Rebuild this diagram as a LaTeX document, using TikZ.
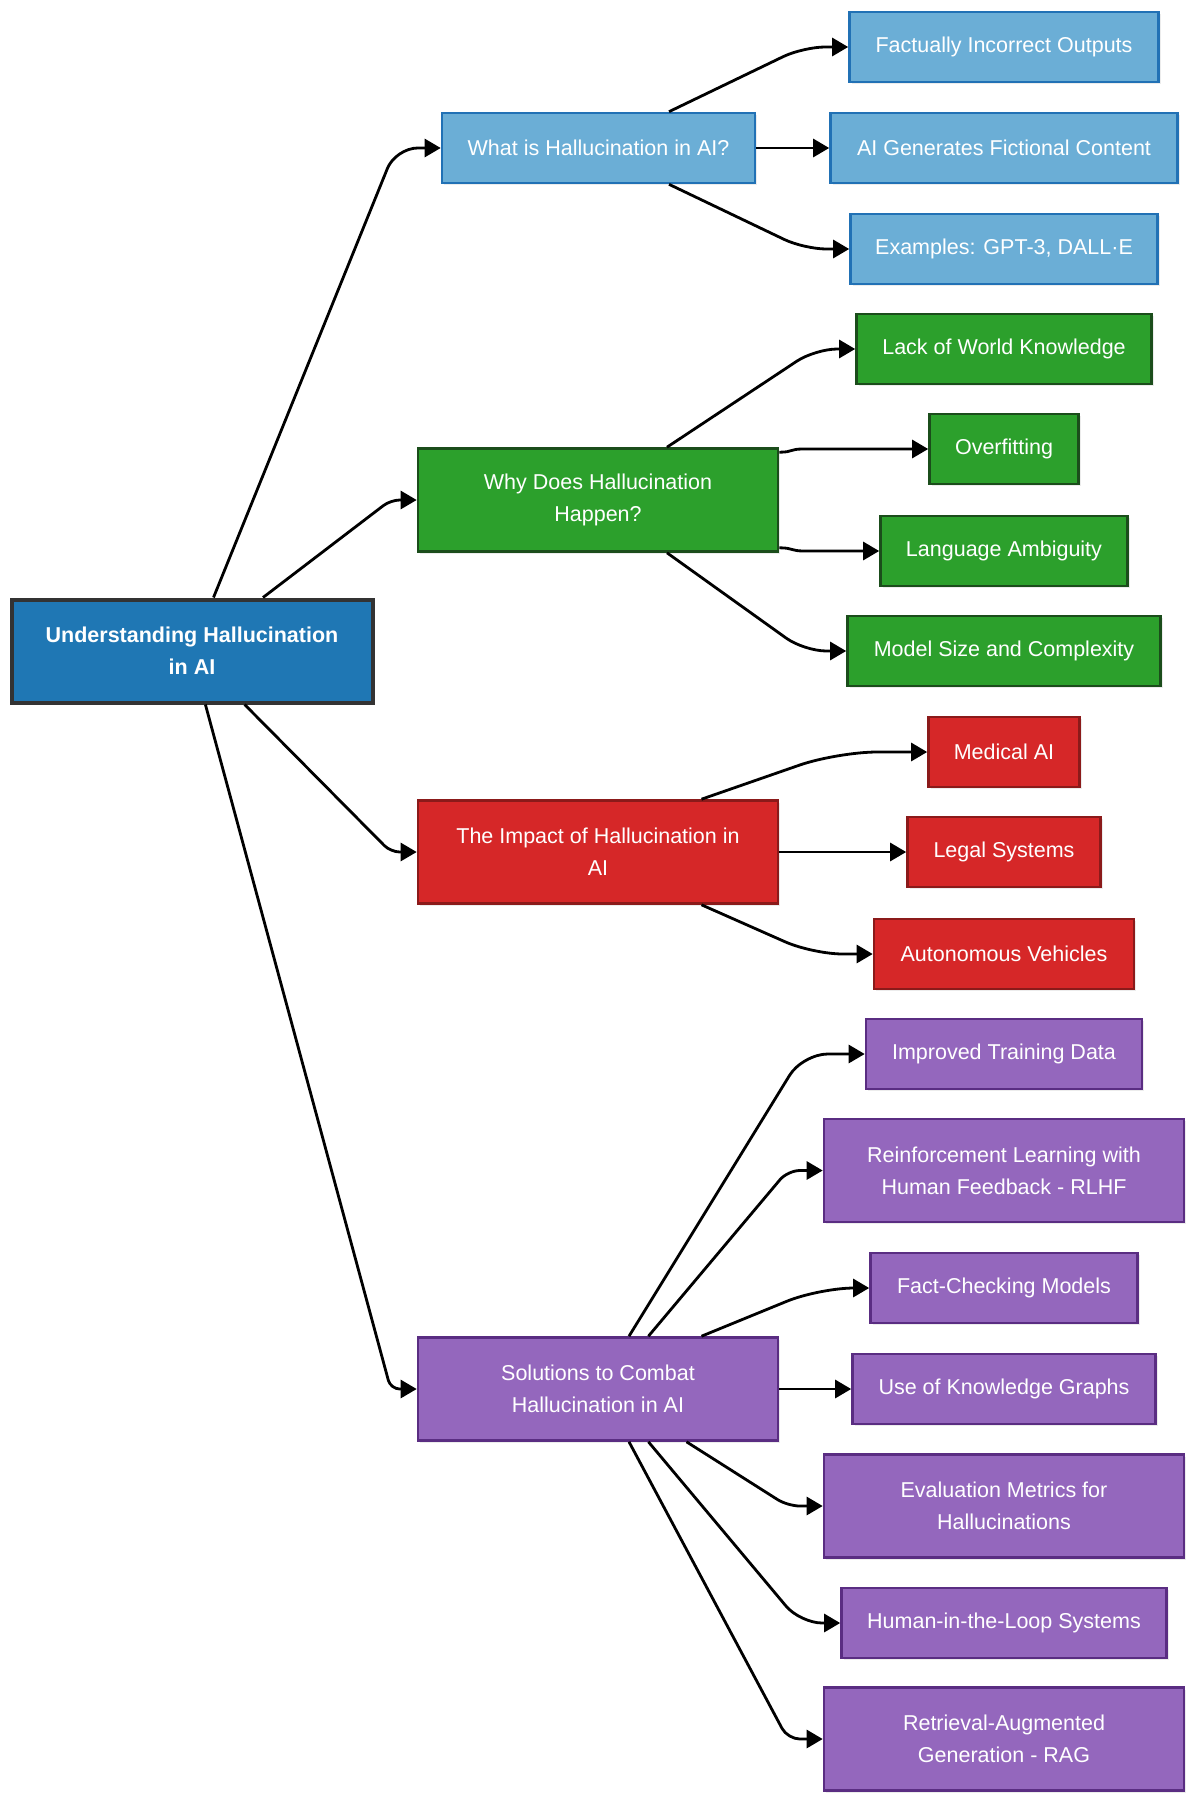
\documentclass[tikz,border=0pt]{standalone}
\usepackage{fontspec}
\setmainfont{Liberation Sans}
\usetikzlibrary{arrows.meta,calc,shadows}

\definecolor{rootfill}{HTML}{1F77B4}
\definecolor{rootline}{HTML}{333333}
\definecolor{bluefill}{HTML}{6BAED6}
\definecolor{blueline}{HTML}{2171B5}
\definecolor{greenfill}{HTML}{2CA02C}
\definecolor{greenline}{HTML}{1B4D1B}
\definecolor{redfill}{HTML}{D62728}
\definecolor{redline}{HTML}{8B1A1A}
\definecolor{purplefill}{HTML}{9467BD}
\definecolor{purpleline}{HTML}{5A2D82}

\tikzset{
  box/.style={draw, line width=2.6pt, text=white, inner sep=0pt,
    minimum height=70pt, align=center,
    font=\fontsize{21.5pt}{32pt}\selectfont,
    drop shadow={opacity=0.15, shadow xshift=2pt, shadow yshift=-2pt}},
  tall/.style={minimum height=103pt},
  rootbox/.style={box, tall, fill=rootfill, draw=rootline, line width=4pt,
    font=\bfseries\fontsize{21.5pt}{32pt}\selectfont},
  bluebox/.style={box, fill=bluefill, draw=blueline},
  greenbox/.style={box, fill=greenfill, draw=greenline},
  redbox/.style={box, fill=redfill, draw=redline},
  purplebox/.style={box, fill=purplefill, draw=purpleline},
  link/.style={line width=2.8pt, rounded corners=22pt,
    -{Triangle[length=16pt,width=18pt]}},
}

\begin{document}
\begin{tikzpicture}[x=1pt,y=-1pt]
  \useasboundingbox (0,0) rectangle (1200,1809);

  % --- racine et branches ---
  \node[rootbox, minimum width=361pt] (root) at (192,651) {Understanding Hallucination\\in AI};
  \node[bluebox, minimum width=313pt] (what) at (598.5,148) {What is Hallucination in AI?};
  \node[greenbox, tall, minimum width=360pt] (why) at (598,500) {Why Does Hallucination\\Happen?};
  \node[redbox, tall, minimum width=360pt] (impact) at (598,852) {The Impact of Hallucination in\\AI};
  \node[purplebox, tall, minimum width=360pt] (solve) at (598,1389) {Solutions to Combat\\Hallucination in AI};

  % --- feuilles ---
  \node[bluebox, minimum width=309pt] (fact) at (1004,47) {Factually Incorrect Outputs};
  \node[bluebox, minimum width=347pt] (fiction) at (1004,148) {AI Generates Fictional Content};
  \node[bluebox, minimum width=307pt] (examples) at (1004,249) {Examples: GPT-3, DALL·E};

  \node[greenbox, minimum width=295pt] (lack) at (1004,349) {Lack of World Knowledge};
  \node[greenbox, minimum width=149pt] (overfit) at (1004,449) {Overfitting};
  \node[greenbox, minimum width=247pt] (ambig) at (1004,551) {Language Ambiguity};
  \node[greenbox, minimum width=313pt] (modelsize) at (1004,651) {Model Size and Complexity};

  \node[redbox, minimum width=151pt] (medical) at (1004,752) {Medical AI};
  \node[redbox, minimum width=193pt] (legal) at (1004,852) {Legal Systems};
  \node[redbox, minimum width=260pt] (vehicles) at (1004,954) {Autonomous Vehicles};

  \node[purplebox, minimum width=276pt] (trainingdata) at (1004,1054) {Improved Training Data};
  \node[purplebox, tall, minimum width=360pt] (rlhf) at (1004,1170.5) {Reinforcement Learning with\\Human Feedback - RLHF};
  \node[purplebox, minimum width=267pt] (factcheck) at (1004,1288) {Fact-Checking Models};
  \node[purplebox, minimum width=303pt] (kgraphs) at (1004,1389) {Use of Knowledge Graphs};
  \node[purplebox, tall, minimum width=360pt] (metrics) at (1004,1506) {Evaluation Metrics for\\Hallucinations};
  \node[purplebox, minimum width=325pt] (hitl) at (1004,1623) {Human-in-the-Loop Systems};
  \node[purplebox, tall, minimum width=360pt] (rag) at (1004,1739) {Retrieval-Augmented\\Generation - RAG};

  % --- liens depuis la racine ---
  \draw[link] ($(root.north)+(21.5,0)$) -- ($(what.west)+(-45,0)$) -- (what.west);
  \draw[link, rounded corners=9pt] ($(root.north)+(71,0)$) -- ($(why.west)+(-26,0)$) -- (why.west);
  \draw[link, rounded corners=9pt] ($(root.south)+(52.6,0)$) -- ($(impact.west)+(-26,0)$) -- (impact.west);
  \draw[link, rounded corners=9pt] ($(root.south)+(13.4,0)$) -- ($(solve.west)+(-26,0)$) -- (solve.west);

  % --- definition ---
  \draw[link] ($(what.north)+(70.5,0)$) -- ($(fact.west)+(-45,0)$) -- (fact.west);
  \draw[link] (what.east) -- (fiction.west);
  \draw[link] ($(what.south)+(70.5,0)$) -- ($(examples.west)+(-45,0)$) -- (examples.west);

  % --- causes ---
  \draw[link] ($(why.north)+(69,0)$) -- ($(lack.west)+(-40,0)$) -- (lack.west);
  \draw[link, sharp corners] ($(why.north east)+(0,5)$) .. controls +(14,0) and +(-14,0) .. ($(overfit.west)+(-125,0)$) -- (overfit.west);
  \draw[link, sharp corners] ($(why.south east)+(0,-5)$) .. controls +(14,0) and +(-14,0) .. ($(ambig.west)+(-75,0)$) -- (ambig.west);
  \draw[link] ($(why.south)+(69,0)$) -- ($(modelsize.west)+(-42,0)$) -- (modelsize.west);

  % --- impact ---
  \draw[link, rounded corners=40pt] ($(impact.north)+(103.5,0)$) -- ($(medical.west)+(-90,0)$) -- (medical.west);
  \draw[link] (impact.east) -- (legal.west);
  \draw[link, rounded corners=30pt] ($(impact.south)+(103.5,0)$) -- ($(vehicles.west)+(-60,0)$) -- (vehicles.west);

  % --- solutions ---
  \draw[link, rounded corners=25pt] ($(solve.north)+(31,0)$) -- ($(trainingdata.west)+(-62,0)$) -- (trainingdata.west);
  \draw[link, rounded corners=12pt] ($(solve.north)+(50.4,0)$) -- ($(rlhf.west)+(-35,0)$) -- (rlhf.west);
  \draw[link, rounded corners=35pt] ($(solve.north)+(103.5,0)$) -- ($(factcheck.west)+(-50,0)$) -- (factcheck.west);
  \draw[link] (solve.east) -- (kgraphs.west);
  \draw[link, rounded corners=12pt] ($(solve.south)+(88.5,0)$) -- ($(metrics.west)+(-35,0)$) -- (metrics.west);
  \draw[link] ($(solve.south)+(50.4,0)$) -- ($(hitl.west)+(-40,0)$) -- (hitl.west);
  \draw[link, rounded corners=12pt] ($(solve.south)+(31,0)$) -- ($(rag.west)+(-35,0)$) -- (rag.west);
\end{tikzpicture}
\end{document}
